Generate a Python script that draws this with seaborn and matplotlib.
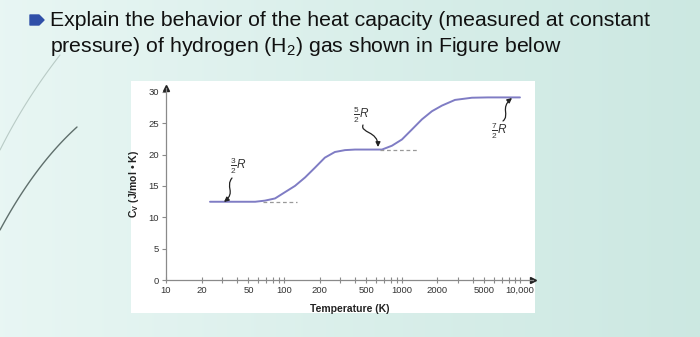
import numpy as np
import pandas as pd
import matplotlib
matplotlib.use("Agg")
import matplotlib.pyplot as plt
import seaborn as sns
from matplotlib.patches import Rectangle, FancyArrowPatch, Polygon
from matplotlib.path import Path
from matplotlib.ticker import FixedLocator, NullFormatter

# ---------------- data ----------------
temperature = [23.6, 40, 57, 69, 84, 102, 124, 151, 183, 222, 270, 329, 400, 520, 677,
               822, 1000, 1216, 1476, 1795, 2183, 2813, 3918, 5354, 7470, 10000]
cv_values = [12.47, 12.47, 12.47, 12.65, 13.0, 14.0, 15.0, 16.35, 17.9, 19.5, 20.4, 20.7, 20.79, 20.79, 20.79,
             21.4, 22.4, 24.0, 25.6, 26.9, 27.8, 28.7, 29.05, 29.1, 29.1, 29.1]
dash1_t = [66, 128]
dash1_v = [12.47, 12.47]
dash2_t = [650, 1336]
dash2_v = [20.79, 20.79]
x_major = [10, 20, 50, 100, 200, 500, 1000, 2000, 5000, 10000]
x_labels = ["10", "20", "50", "100", "200", "500", "1000", "2000", "5000", "10,000"]
x_minor = [30, 40, 60, 70, 80, 90, 300, 400, 600, 700, 800, 900,
           3000, 4000, 6000, 7000, 8000, 9000]
y_ticks = [0, 5, 10, 15, 20, 25, 30]
title_lines = ["Explain the behavior of the heat capacity (measured at constant",
               r"pressure) of hydrogen (H$_{\mathrm{2}}$) gas shown in Figure below"]

sns.set_style("white")
plt.rcParams["font.family"] = ["Liberation Sans", "DejaVu Sans"]
plt.rcParams["mathtext.fontset"] = "custom"
plt.rcParams["mathtext.rm"] = "Liberation Sans"
plt.rcParams["mathtext.it"] = "Liberation Sans:italic"
plt.rcParams["mathtext.bf"] = "Liberation Sans:bold"

W, H = 700, 337
fig = plt.figure(figsize=(7.0, 3.37), dpi=100)

def F(px, py):
    return (px / W, 1 - py / H)

# background gradient
bg = fig.add_axes([0, 0, 1, 1], zorder=-10)
grad = np.linspace(0, 1, 256)[None, :]
c0 = np.array([0.91, 0.965, 0.955])
c1 = np.array([0.80, 0.91, 0.885])
img = c0[None, None, :] * (1 - grad[..., None]) + c1[None, None, :] * grad[..., None]
img = np.repeat(img, 10, axis=0)
bg.imshow(img, aspect="auto", extent=[0, 1, 0, 1])
bg.set_xlim(0, 1); bg.set_ylim(0, 1); bg.axis("off")

# decorative arcs on the left
t = np.linspace(0, 1, 50)
def qbez(p0, p1, p2):
    p0, p1, p2 = map(np.array, (p0, p1, p2))
    return ((1 - t)[:, None] ** 2 * p0 + 2 * ((1 - t) * t)[:, None] * p1 + (t ** 2)[:, None] * p2)
arc1 = qbez((0, 150), (25, 100), (60, 55))
arc2 = qbez((0, 230), (35, 165), (77, 127))
bg.plot(arc1[:, 0] / W, 1 - arc1[:, 1] / H, color="#b9cbc6", lw=0.8)
bg.plot(arc2[:, 0] / W, 1 - arc2[:, 1] / H, color="#5f6f6c", lw=1.0)

# white panel
x0, y0 = F(131, 313)
x1, y1 = F(535, 81)
fig.patches.append(Rectangle((x0, y0), x1 - x0, y1 - y0, transform=fig.transFigure,
                             facecolor="white", edgecolor="none", zorder=-5))

# title bullet and text
bullet = [F(30, 15), F(39, 15), F(44, 20), F(39, 25), F(30, 25)]
fig.patches.append(Polygon(bullet, closed=True, transform=fig.transFigure,
                           facecolor="#2f4fa8", edgecolor="#2f4fa8", lw=1, joinstyle="round"))
fig.text(*F(50, 20), title_lines[0], fontsize=15.3, color="#111111", va="center", ha="left")
fig.text(*F(50, 47), title_lines[1], fontsize=15.3, color="#111111", va="center", ha="left")

# ---------------- chart ----------------
ax = fig.add_axes([166 / W, 1 - 280 / H, (533 - 166) / W, (280 - 88) / H])
ax.patch.set_alpha(0)
df = pd.DataFrame({"T": temperature, "Cv": cv_values})
sns.lineplot(data=df, x="T", y="Cv", ax=ax, color="#7f7cc4", lw=1.4, estimator=None, sort=False)
ax.lines[-1].set_solid_joinstyle("round")
ax.plot(dash1_t, dash1_v, ls=(0, (3, 2.2)), color="#999999", lw=0.9)
ax.plot(dash2_t, dash2_v, ls=(0, (3, 2.2)), color="#999999", lw=0.9)
ax.set_xscale("log")
ax.set_xlim(10, 12900)
ax.set_ylim(0, 30.6)
ax.xaxis.set_major_locator(FixedLocator(x_major))
ax.set_xticklabels(x_labels)
ax.xaxis.set_minor_locator(FixedLocator(x_minor))
ax.xaxis.set_minor_formatter(NullFormatter())
ax.set_yticks(y_ticks)
for s in ["top", "right"]:
    ax.spines[s].set_visible(False)
for s in ["left", "bottom"]:
    ax.spines[s].set_color("#8a8a8a")
    ax.spines[s].set_linewidth(0.9)
ax.tick_params(axis="x", which="both", direction="inout", length=5, width=0.8, color="#8a8a8a",
               labelsize=6.8, labelcolor="#333333", pad=2, bottom=True)
ax.tick_params(axis="y", direction="out", length=3, width=0.8, color="#8a8a8a",
               labelsize=6.8, labelcolor="#333333", pad=2, left=True)
ax.set_xlabel("Temperature (K)", fontsize=7.5, fontweight="bold", color="#222222", labelpad=6)
ax.set_ylabel(r"C$_{\mathbf{V}}$ (J/mol • K)", fontsize=7.5, fontweight="bold", color="#222222", labelpad=5)

# axis arrow heads
ax.plot([1], [0], marker=">", markersize=4, color="#222222", transform=ax.transAxes, clip_on=False)
ax.plot([0], [1], marker="^", markersize=4, color="#222222", transform=ax.transAxes, clip_on=False)

# annotations with wavy arrows
def wavy(points):
    verts = [F(*p) for p in points]
    path = Path(verts, [Path.MOVETO, Path.CURVE4, Path.CURVE4, Path.CURVE4])
    fig.patches.append(FancyArrowPatch(path=path, arrowstyle="-|>", mutation_scale=7,
                                       color="#222222", lw=0.9, transform=fig.transFigure))

fig.text(*F(238, 166), r"$\frac{3}{2}R$", fontsize=8.5, color="#333333", ha="center", va="center")
wavy([(232, 178), (225, 187), (236, 192), (224, 202)])
fig.text(*F(361, 115), r"$\frac{5}{2}R$", fontsize=8.5, color="#333333", ha="center", va="center")
wavy([(363, 125), (360, 133), (378, 131), (378, 147)])
fig.text(*F(499, 131), r"$\frac{7}{2}R$", fontsize=8.5, color="#333333", ha="center", va="center")
wavy([(503, 121), (510, 115), (500, 108), (512, 98)])

fig.savefig("out.png", dpi=100)
